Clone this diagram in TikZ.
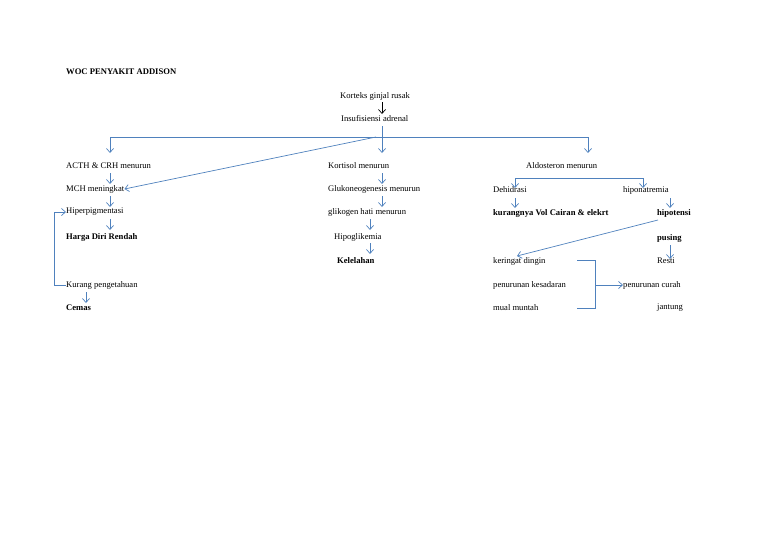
\documentclass[tikz,border=0pt]{standalone}
\usepackage{fontspec}
\setmainfont{Liberation Serif}
\usetikzlibrary{arrows.meta}
\definecolor{lb}{HTML}{4F81BD}
\begin{document}
\begin{tikzpicture}[x=1pt,y=-1pt,
  t/.style={anchor=west,inner sep=0pt,font=\fontsize{8.6}{10}\selectfont},
  b/.style={t,font=\fontsize{8.6}{10}\selectfont\bfseries},
  ar/.style={draw=lb,line width=0.7pt,-{Straight Barb[length=4pt,width=7pt]}},
  ln/.style={draw=lb,line width=0.7pt}]
\useasboundingbox (0,0) rectangle (768,543);
\node[b] (title) at (66,72) {WOC PENYAKIT ADDISON};
\node[t] (kor) at (340,96) {Korteks ginjal rusak};
\node[t] (ins) at (341,119) {Insufisiensi adrenal};
\draw[line width=0.7pt,-{Straight Barb[length=4pt,width=7pt]}] (382,102) -- (382,114);
% branches
\coordinate (j) at (382,137);
\coordinate (jl) at (110,137);
\coordinate (jr) at (588,137);
\draw[ln] (jl) -- (jr);
\draw[ar] (382,126) -- (382,153);
\draw[ar] (jl) -- (110,153);
\draw[ar] (jr) -- (588,153);
% left column
\node[t] (acth) at (66,166) {ACTH \& CRH menurun};
\node[t] (mch) at (66,189) {MCH meningkat};
\node[t] (hip) at (66,212) {Hiperpigmentasi};
\node[b] (hdr) at (66,237) {Harga Diri Rendah};
\node[t] (kp) at (66,285) {Kurang pengetahuan};
\node[b] (cem) at (66,308) {Cemas};
\draw[ar] (376,137) -- (mch.east);
\draw[ar] (110,173) -- (110,184);
\draw[ar] (110,196) -- (110,207);
\draw[ar] (110,219) -- (110,230);
\draw[ar] (kp.west) -- (54,285) -- (54,212) -- (hip.west);
\draw[ar] (86,292) -- (86,303);
% middle column
\node[t] (kort) at (328,166) {Kortisol menurun};
\node[t] (glu) at (328,189) {Glukoneogenesis menurun};
\node[t] (gli) at (328,212) {glikogen hati menurun};
\node[t] (hipo) at (334,237) {Hipoglikemia};
\node[b] (kel) at (337,261) {Kelelahan};
\draw[ar] (382,173) -- (382,184);
\draw[ar] (382,196) -- (382,207);
\draw[ar] (370,219) -- (370,230);
\draw[ar] (370,243) -- (370,254);
% right column
\node[t] (ald) at (526,166) {Aldosteron menurun};
\node[t] (deh) at (493,190) {Dehidrasi};
\node[t] (hna) at (623,190) {hiponatremia};
\node[b] (kvc) at (493,213) {kurangnya Vol Cairan \& elekrt};
\node[b] (hpt) at (657,213) {hipotensi};
\node[b] (pus) at (657,238) {pusing};
\node[t] (res) at (657,261) {Resti};
\node[t] (ker) at (493,261) {keringat dingin};
\node[t] (pk) at (493,285) {penurunan kesadaran};
\node[t] (mm) at (493,308) {mual muntah};
\node[t] (pc) at (623,285) {penurunan curah};
\node[t] (jan) at (657,308) {jantung};
\draw[ln] (515,178) -- (643,178);
\draw[ar] (515,178) -- (515,188);
\draw[ar] (643,178) -- (643,188);
\draw[ar] (515,198) -- (515,208);
\draw[ar] (670,198) -- (670,208);
\draw[ar] (658,220) -- (517,256);
\draw[ar] (670,245) -- (670,259);
\draw[ln] (577,260) -- (595,260) -- (595,308) -- (577,308);
\draw[ar] (595,285) -- (pc.west);
\end{tikzpicture}
\end{document}
